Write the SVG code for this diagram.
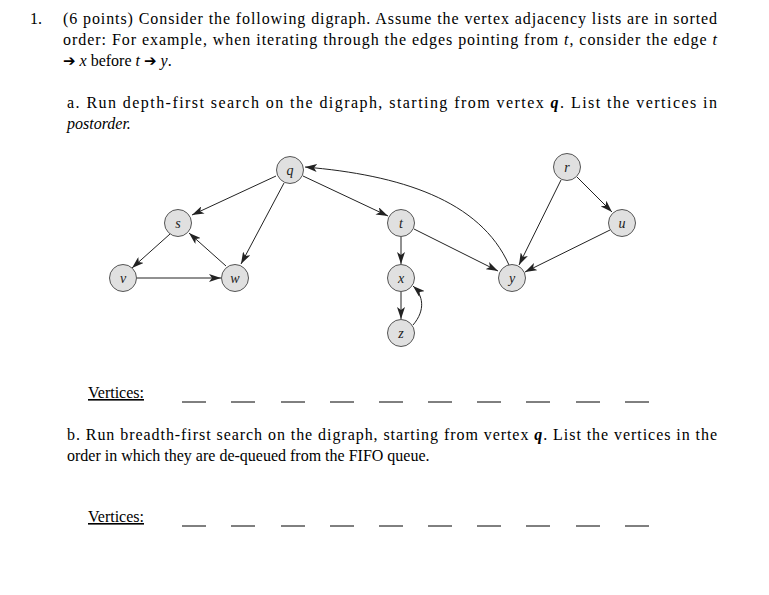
<svg xmlns="http://www.w3.org/2000/svg" width="769" height="595" viewBox="0 0 769 595">
<defs>
<style>
.t{font-family:"Liberation Serif",serif;font-size:16px;fill:#000}
.ar{font-family:"DejaVu Sans",sans-serif;font-weight:bold;font-size:15px}
.n circle{fill:#e0e0e0;stroke:#555;stroke-width:1}
.n text{font-family:"Liberation Serif",serif;font-style:italic;font-size:14px;text-anchor:middle;fill:#222}
.e{fill:none;stroke:#222;stroke-width:1;marker-end:url(#a)}
.u{stroke:#000;stroke-width:1}
</style>
<marker id="a" viewBox="0 0 12 8" refX="12" refY="4" markerWidth="12" markerHeight="8" markerUnits="userSpaceOnUse" orient="auto"><path d="M0,0 L12,4 L0,8 L3,4 Z" fill="#222"/></marker>
</defs>
<rect width="769" height="595" fill="#fff"/>
<text class="t" x="30" y="24">1.</text>
<text class="t" x="63" y="24" textLength="654" lengthAdjust="spacing">(6 points) Consider the following digraph. Assume the vertex adjacency lists are in sorted</text>
<text class="t" x="63" y="45" textLength="654" lengthAdjust="spacing">order: For example, when iterating through the edges pointing from <tspan font-style="italic">t</tspan>, consider the edge <tspan font-style="italic">t</tspan></text>
<text class="t" x="63" y="66"><tspan class="ar">➔</tspan> <tspan font-style="italic">x</tspan> before <tspan font-style="italic">t</tspan> <tspan class="ar">➔</tspan> <tspan font-style="italic">y</tspan>.</text>
<text class="t" x="67" y="108" textLength="650" lengthAdjust="spacing">a. Run depth-first search on the digraph, starting from vertex <tspan font-weight="bold" font-style="italic">q</tspan>. List the vertices in</text>
<text class="t" x="67" y="129" font-style="italic">postorder.</text>
<g id="edges">
<path class="e" d="M276,176 L192,215"/>
<path class="e" d="M284,183 L241,264"/>
<path class="e" d="M303,176 L388,216"/>
<path class="e" d="M170,234 L132,268"/>
<path class="e" d="M137,278 L221,278"/>
<path class="e" d="M226,266 L189,233"/>
<path class="e" d="M401,237 L401,264"/>
<path class="e" d="M401,292 L401,319"/>
<path class="e" d="M413,325 C426,310 423,295 413,286"/>
<path class="e" d="M414,229 L498,271"/>
<path class="e" d="M509,265 C480,200 400,175 305,167"/>
<path class="e" d="M561,180 L519,265"/>
<path class="e" d="M577,177 L612,212"/>
<path class="e" d="M610,230 L525,272"/>
</g>
<g id="q" class="n"><circle cx="290" cy="170" r="13.5"/><text x="290" y="175">q</text></g>
<g id="s" class="n"><circle cx="178" cy="223" r="13.5"/><text x="178" y="228">s</text></g>
<g id="v" class="n"><circle cx="123" cy="278" r="13.5"/><text x="123" y="283">v</text></g>
<g id="w" class="n"><circle cx="235" cy="278" r="13.5"/><text x="235" y="283">w</text></g>
<g id="t" class="n"><circle cx="401" cy="223" r="13.5"/><text x="401" y="228">t</text></g>
<g id="x" class="n"><circle cx="401" cy="278" r="13.5"/><text x="401" y="283">x</text></g>
<g id="z" class="n"><circle cx="401" cy="333" r="13.5"/><text x="401" y="338">z</text></g>
<g id="y" class="n"><circle cx="512" cy="278" r="13.5"/><text x="512" y="283">y</text></g>
<g id="r" class="n"><circle cx="567" cy="167" r="13.5"/><text x="567" y="172">r</text></g>
<g id="u" class="n"><circle cx="622" cy="223" r="13.5"/><text x="622" y="228">u</text></g>
<text class="t" x="88" y="398" text-decoration="underline">Vertices:</text>
<g class="u">
<line x1="182" y1="402" x2="206" y2="402"/><line x1="231" y1="402" x2="255" y2="402"/><line x1="281" y1="402" x2="305" y2="402"/><line x1="330" y1="402" x2="354" y2="402"/><line x1="379" y1="402" x2="403" y2="402"/><line x1="428" y1="402" x2="452" y2="402"/><line x1="477" y1="402" x2="501" y2="402"/><line x1="526" y1="402" x2="550" y2="402"/><line x1="576" y1="402" x2="600" y2="402"/><line x1="625" y1="402" x2="649" y2="402"/>
</g>
<text class="t" x="67" y="440" textLength="650" lengthAdjust="spacing">b. Run breadth-first search on the digraph, starting from vertex <tspan font-weight="bold" font-style="italic">q</tspan>. List the vertices in the</text>
<text class="t" x="67" y="461">order in which they are de-queued from the FIFO queue.</text>
<text class="t" x="88" y="522" text-decoration="underline">Vertices:</text>
<g class="u">
<line x1="182" y1="526" x2="206" y2="526"/><line x1="231" y1="526" x2="255" y2="526"/><line x1="281" y1="526" x2="305" y2="526"/><line x1="330" y1="526" x2="354" y2="526"/><line x1="379" y1="526" x2="403" y2="526"/><line x1="428" y1="526" x2="452" y2="526"/><line x1="477" y1="526" x2="501" y2="526"/><line x1="526" y1="526" x2="550" y2="526"/><line x1="576" y1="526" x2="600" y2="526"/><line x1="625" y1="526" x2="649" y2="526"/>
</g>
</svg>
